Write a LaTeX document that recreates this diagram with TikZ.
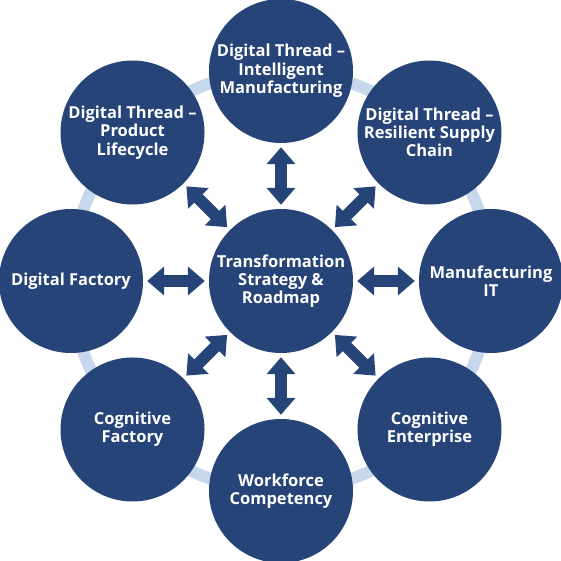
\documentclass[tikz,border=0pt]{standalone}
\usepackage{fontspec}
\setmainfont{Open Sans}
\usetikzlibrary{arrows.meta}
\definecolor{hubblue}{HTML}{264478}
\definecolor{ringblue}{HTML}{C8D8EC}

\tikzset{
  hub/.style={circle, fill=hubblue, minimum size=144pt, inner sep=0pt,
    text=white, align=center, font=\bfseries\fontsize{16.5}{18.3}\selectfont},
  link/.style={hubblue, line width=12pt,
    {Triangle[width=28pt,length=17pt]}-{Triangle[width=28pt,length=17pt]},
    shorten <=4pt, shorten >=4pt}
}

\begin{document}
\begin{tikzpicture}[x=1pt,y=1pt]
    \useasboundingbox (-281,-280) rectangle (280,281);
    % Ring behind the circles
    \draw[ringblue, line width=12pt] (0,0) circle (210);
    % Centre
    \node[hub] (core) at (0,0) {Transformation\\Strategy \&\\Roadmap};
    % Outer circles
    \node[hub] (intel) at (90:210) {Digital Thread –\\Intelligent\\Manufacturing};
    \node[hub] (supply) at (45:210) {Digital Thread –\\Resilient Supply\\Chain};
    \node[hub] (mfgit) at (0:210) {Manufacturing\\IT};
    \node[hub] (cogent) at (-45:210) {Cognitive\\Enterprise};
    \node[hub] (workforce) at (-90:210) {Workforce\\Competency};
    \node[hub] (cogfac) at (-135:210) {Cognitive\\Factory};
    \node[hub] (digfac) at (180:210) {Digital Factory};
    \node[hub] (product) at (135:210) {Digital Thread –\\Product\\Lifecycle};
    % Arrows
    \foreach \n in {intel,supply,mfgit,cogent,workforce,cogfac,digfac,product} {
        \draw[link] (core) -- (\n);
    }
\end{tikzpicture}
\end{document}
